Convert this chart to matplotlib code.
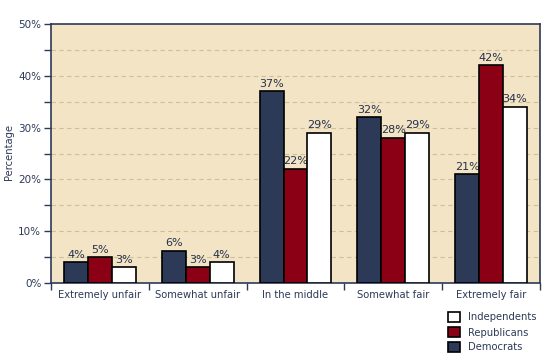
import matplotlib.pyplot as plt
import numpy as np

categories = ['Extremely unfair', 'Somewhat unfair', 'In the middle', 'Somewhat fair', 'Extremely fair']
democrats = [4, 6.2, 37, 32, 21]
republicans = [5, 3, 22, 28, 42]
independents = [3, 4, 29, 29, 34]

navy = '#2d3a57'
red = '#8b0014'
text_col = '#2d3a57'

fig = plt.figure(figsize=(5.45, 3.6), dpi=100)
ax = fig.add_axes([51 / 545, 1 - 283 / 360, 489 / 545, 259 / 360])
ax.set_facecolor('#f2e4c4')

x = np.arange(len(categories))
w = 0.245
series = [(democrats, navy, 'Democrats'), (republicans, red, 'Republicans'),
          (independents, 'white', 'Independents')]
handles = []
for i, (vals, col, name) in enumerate(series):
    b = ax.bar(x + (i - 1) * w, vals, w, color=col, edgecolor='black', linewidth=1.2,
               label=name, zorder=3)
    handles.append(b)
    for xi, v in zip(x + (i - 1) * w, vals):
        ax.text(xi, v + 0.5, f'{v:.0f}%', ha='center', va='bottom', fontsize=8,
                color='#25304a')

ax.set_xlim(-0.5, len(categories) - 0.5)
ax.set_ylim(0, 50)
ax.set_yticks(np.arange(0, 51, 10))
ax.set_yticklabels([f'{t}%' for t in range(0, 51, 10)], fontsize=7.5, color=text_col)
ax.set_yticks(np.arange(5, 50, 10), minor=True)
for t in np.arange(5, 50, 5):
    ax.axhline(t, color='#cfc09c', linestyle=(0, (4, 3)), linewidth=0.8, zorder=1)

ax.set_xticks(x)
ax.set_xticklabels(categories, fontsize=7.2, color=text_col)
ax.tick_params(axis='x', length=0, pad=5)
ax.set_xticks(np.arange(-0.5, len(categories), 1), minor=True)
ax.tick_params(axis='x', which='minor', length=5, color=navy, width=1)
ax.tick_params(axis='y', which='both', length=5, color=navy, width=1, pad=2)
for s in ax.spines.values():
    s.set_color(navy)
    s.set_linewidth(1.2)

fig.text(9 / 545, 1 - 152 / 360, 'Percentage', rotation=90, fontsize=7.2,
         color=text_col, ha='center', va='center')

leg = fig.legend(handles[::-1], [h.get_label() for h in handles[::-1]],
                 loc='upper left', bbox_to_anchor=(448 / 545, 1 - 312 / 360),
                 frameon=False, fontsize=7.2, handlelength=1.2, handleheight=1.2,
                 labelspacing=0.45, handletextpad=0.8, borderpad=0, borderaxespad=0)
for t in leg.get_texts():
    t.set_color(text_col)

fig.savefig('out.png', dpi=100)
